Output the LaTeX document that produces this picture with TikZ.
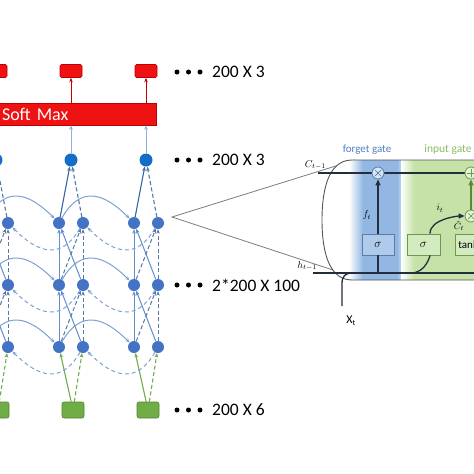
\documentclass[tikz,border=0pt]{standalone}
\usepackage{fontspec}
\setmainfont{Carlito}
\usetikzlibrary{arrows.meta,calc}
\definecolor{nodeblue}{RGB}{68,114,196}
\definecolor{outblue}{RGB}{20,110,200}
\definecolor{linkblue}{RGB}{98,142,202}
\definecolor{toplink}{RGB}{55,100,165}
\definecolor{arcblue}{RGB}{125,162,210}
\definecolor{dashblue}{RGB}{85,120,170}
\definecolor{smline}{RGB}{140,178,222}
\definecolor{softred}{RGB}{238,18,18}
\definecolor{darkred}{RGB}{192,0,0}
\definecolor{ingreen}{RGB}{112,173,71}
\definecolor{ingreendark}{RGB}{84,130,53}
\definecolor{greenline}{RGB}{115,170,75}
\definecolor{bandblue}{RGB}{145,183,226}
\definecolor{bandgreen}{RGB}{198,226,168}
\definecolor{fboxfill}{RGB}{175,202,234}
\definecolor{fboxline}{RGB}{90,125,165}
\definecolor{gboxfill}{RGB}{212,234,192}
\definecolor{gboxline}{RGB}{105,155,75}
\definecolor{fgtext}{RGB}{80,130,195}
\definecolor{igtext}{RGB}{140,190,100}
\definecolor{cellline}{RGB}{85,85,85}
\definecolor{darkline}{RGB}{35,45,60}
\definecolor{zoomgray}{RGB}{125,125,125}
\tikzset{
  redbox/.style={rectangle, rounded corners=1.5pt, fill=softred, draw=darkred, line width=0.6pt, minimum width=22pt, minimum height=13pt, inner sep=0pt},
  greenbox/.style={rectangle, rounded corners=2pt, fill=ingreen, draw=ingreendark, line width=0.6pt, minimum width=22pt, minimum height=16pt, inner sep=0pt},
  outnode/.style={circle, fill=outblue, minimum size=13pt, inner sep=0pt},
  hnode/.style={circle, fill=nodeblue, minimum size=12pt, inner sep=0pt},
  tip/.style={-{Stealth[length=4.5pt,width=3.6pt]}},
  uplink/.style={tip, draw=linkblue, line width=1pt},
  updash/.style={tip, draw=dashblue, line width=1pt, dash pattern=on 4pt off 2.5pt},
  topsolid/.style={tip, draw=toplink, line width=1.1pt},
  topdash/.style={tip, draw=dashblue, line width=1.1pt, dash pattern=on 4pt off 2.5pt},
  greensolid/.style={tip, draw=greenline, line width=1.1pt},
  greendash/.style={tip, draw=greenline, line width=1.1pt, dash pattern=on 4pt off 2.5pt},
  arcsolid/.style={tip, draw=arcblue, line width=1pt},
  arcdash/.style={tip, draw=arcblue, line width=1pt, dash pattern=on 4pt off 3pt},
  smarrow/.style={tip, draw=smline, line width=0.9pt},
  redarrow/.style={tip, draw=darkred, line width=1pt},
  bdot/.style={circle, fill=black, minimum size=5pt, inner sep=0pt},
  dimtext/.style={anchor=west, inner sep=0pt, font=\fontsize{17.5}{20}\selectfont},
  fbox/.style={rectangle, draw=fboxline, fill=fboxfill, line width=0.8pt, minimum width=32pt, minimum height=21pt, inner sep=0pt, font=\fontsize{12}{14}\selectfont},
  gbox/.style={rectangle, draw=gboxline, fill=gboxfill, line width=0.8pt, minimum width=33pt, minimum height=21pt, inner sep=0pt, font=\fontsize{12}{14}\selectfont},
  opcirc/.style={circle, line width=0.8pt, minimum size=12pt, inner sep=0pt},
  timescirc/.style={opcirc, path picture={
      \draw[line width=0.7pt] ($(path picture bounding box.center)+(-3,-3)$) -- ($(path picture bounding box.center)+(3,3)$);
      \draw[line width=0.7pt] ($(path picture bounding box.center)+(-3,3)$) -- ($(path picture bounding box.center)+(3,-3)$);}},
  pluscirc/.style={opcirc, path picture={
      \draw[line width=0.7pt] ($(path picture bounding box.center)+(-3.8,0)$) -- ($(path picture bounding box.center)+(3.8,0)$);
      \draw[line width=0.7pt] ($(path picture bounding box.center)+(0,-3.8)$) -- ($(path picture bounding box.center)+(0,3.8)$);}},
  darkpath/.style={draw=darkline, line width=1.3pt},
  mathlab/.style={inner sep=0pt, font=\fontsize{10}{12}\selectfont},
}
\begin{document}
\begin{tikzpicture}[x=1pt,y=-1pt]
\useasboundingbox (0,0) rectangle (474,474);
\clip (0,0) rectangle (474,474);
\fill[white] (0,0) rectangle (474,474);

% ---------- left network ----------
\node[rectangle, fill=softred, draw=darkred, line width=0.6pt, minimum height=22pt,
      text width=151pt, inner xsep=3pt, inner ysep=0pt, align=left, text=white,
      font=\fontsize{18}{20}\selectfont] (sm) at (77.5,114) {Soft Max};

\foreach \c/\x in {a/-4,b/71,c/146}{
  \node[redbox] (r\c) at (\x,71) {};
  \node[outnode] (o\c) at (\x,160) {};
  \node[hnode] (F3\c) at (\x-12,223) {};
  \node[hnode] (B3\c) at (\x+12,223) {};
  \node[hnode] (F2\c) at (\x-12,285) {};
  \node[hnode] (B2\c) at (\x+12,285) {};
  \node[hnode] (F1\c) at (\x-12,347) {};
  \node[hnode] (B1\c) at (\x+12,347) {};
  \node[greenbox] (g\c) at (\x+2,410) {};
}

\foreach \c in {a,b,c}{
  \draw[redarrow] (r\c |- sm.north) -- (r\c);
  \draw[smarrow] (o\c) -- (o\c |- sm.south);
  \draw[topsolid] (F3\c) -- (o\c);
  \draw[topdash] (B3\c) -- (o\c);
  \foreach \lo/\hi in {1/2,2/3}{
    \draw[uplink] (F\lo\c) -- (F\hi\c);
    \draw[uplink] (B\lo\c) -- (F\hi\c);
    \draw[updash] (F\lo\c) -- (B\hi\c);
    \draw[updash] (B\lo\c) -- (B\hi\c);
  }
  \draw[greensolid] (g\c) -- (F1\c);
  \draw[greendash] (g\c) -- (B1\c);
}
\foreach \l in {1,2,3}{
  \foreach \p/\q in {a/b,b/c}{
    \draw[arcsolid] (F\l\p) to[out=60,in=135,looseness=1.4] (F\l\q);
    \draw[arcdash] (B\l\q) to[out=-120,in=-45,looseness=1.4] (B\l\p);
  }
}

% dots and sizes
\foreach \y/\n/\t in {72/d1/{200 X 3},160/d2/{200 X 3},285/d3/{2*200 X 100},410/d4/{200 X 6}}{
  \node[bdot] at (177,\y) {};
  \node[bdot] at (188.5,\y) {};
  \node[bdot] at (200,\y) {};
  \node[dimtext] (\n) at (212,\y) {\t};
}

% ---------- zoom lines ----------
\coordinate (zapex) at (172,217);
\coordinate (ztop) at (355,160);
\coordinate (zbot) at (342,273);
\draw[zoomgray, line width=0.8pt] (ztop) -- (zapex) -- (zbot);

% ---------- LSTM cell ----------
\def\cellpath{(480,160) -- (352,160) .. controls (326,160) and (322,196) .. (322,220) .. controls (322,244) and (326,280) .. (352,280) -- (480,280)}
\fill[white] \cellpath -- cycle;
\begin{scope}
  \clip \cellpath -- cycle;
  \shade[left color=white, right color=bandblue] (349,150) rectangle (363,290);
  \fill[bandblue] (363,150) rectangle (397,290);
  \shade[left color=bandblue, right color=bandblue!60!white] (397,150) rectangle (401,290);
  \shade[left color=white, right color=bandgreen] (401,150) rectangle (414,290);
  \fill[bandgreen] (414,150) rectangle (480,290);
\end{scope}
\draw[cellline, line width=0.9pt] \cellpath;

\node[inner sep=0pt, text=fgtext, font=\fontsize{11}{12}\selectfont] (fgl) at (367,150) {forget gate};
\node[inner sep=0pt, text=igtext, font=\fontsize{11.5}{12}\selectfont] (igl) at (448,150) {input gate};

% cell state and hidden lines
\coordinate (cstart) at (318,173);
\coordinate (cend) at (480,173);
\coordinate (hstart) at (313,273);
\coordinate (hend) at (480,273);
\draw[darkpath, line width=1.1pt] (cstart) -- (cend);
\draw[darkpath] (hstart) -- (hend);
\node[mathlab, anchor=south east] (clab) at (326,170) {$C_{t-1}$};
\node[mathlab, anchor=south east] (hlab) at (317,271) {$h_{t-1}$};

% input x_t
\coordinate (xin) at (342,306);
\coordinate (xbend) at (342,284);
\coordinate (xjoin) at (353,273);
\draw[darkpath] (xin) -- (xbend) .. controls (342,276) and (345,273) .. (xjoin);
\node[inner sep=0pt, font=\fontsize{12}{14}\selectfont] (xlab) at (351,321) {X\textsubscript{t}};

% boxes
\node[fbox] (fs) at (378,244.5) {$\sigma$};
\node[gbox] (is) at (423.5,244.5) {$\sigma$};
\node[gbox, text width=30pt, inner xsep=3pt, align=left, anchor=west, font=\fontsize{11}{12}\selectfont] (tb) at (455,244.5) {tanh};

% operation circles
\node[timescirc, draw=fboxline, fill=fboxfill!50!white] (fx) at (378,173) {};
\node[timescirc, draw=gboxline, fill=gboxfill!60!white] (ix) at (471,216) {};
\node[pluscirc, draw=gboxline, fill=gboxfill!60!white] (px) at (471,173) {};

% forget gate path
\draw[darkpath] (fs) -- (fs |- hstart);
\draw[darkpath, -{Triangle[length=6pt,width=5pt]}] (fs) -- (fx);
\node[mathlab] (flab) at (367,215) {$f_t$};

% input gate path
\coordinate (isplit) at (411,273);
\draw[darkpath] (isplit) .. controls (426,273) and ([xshift=6.5pt]is.south) .. ([xshift=6.5pt]is.south);
\draw[darkpath, -{Triangle[length=6pt,width=5pt]}] ([xshift=6.5pt]is.north) .. controls +(0,-15) and +(-12,0) .. (ix);
\node[mathlab] (ilab) at (440,208) {$i_t$};
\node[mathlab, font=\fontsize{9.5}{11}\selectfont] (ctlab) at (459,226) {$\tilde{C}_t$};
\draw[draw=greenline!80!black, line width=1.6pt, -{Triangle[length=6pt,width=5pt]}] (ix) -- (px);
\end{tikzpicture}
\end{document}
